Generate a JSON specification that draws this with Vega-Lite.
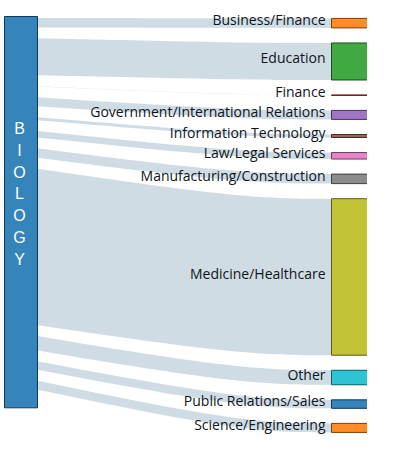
{
  "$schema": "https://vega.github.io/schema/vega-lite/v6.json",
  "width": 395,
  "height": 452,
  "autosize": {"type": "fit", "contains": "padding"},
  "padding": {"left": 0, "top": 0, "right": 28, "bottom": 0},
  "background": "white",
  "config": {"view": {"stroke": null}},
  "datasets": {
    "links": [
      {"source": "BIOLOGY", "target": "Business/Finance", "value": 9.5},
      {"source": "BIOLOGY", "target": "Education", "value": 37},
      {"source": "BIOLOGY", "target": "Finance", "value": 0.3},
      {"source": "BIOLOGY", "target": "Government/International Relations", "value": 9},
      {"source": "BIOLOGY", "target": "Information Technology", "value": 3},
      {"source": "BIOLOGY", "target": "Law/Legal Services", "value": 6.5},
      {"source": "BIOLOGY", "target": "Manufacturing/Construction", "value": 9.5},
      {"source": "BIOLOGY", "target": "Medicine/Healthcare", "value": 156.5},
      {"source": "BIOLOGY", "target": "Other", "value": 14.5},
      {"source": "BIOLOGY", "target": "Public Relations/Sales", "value": 8.5},
      {"source": "BIOLOGY", "target": "Science/Engineering", "value": 9}
    ],
    "nodes": [{"name": "BIOLOGY"}]
  },
  "layer": [
    {
      "data": {"name": "links"},
      "transform": [
        {"window": [{"op": "sum", "field": "value", "as": "cum"}, {"op": "row_number", "as": "idx"}], "sort": [{"field": "target"}], "frame": [null, 0]},
        {"calculate": "18 + datum.cum - datum.value + (datum.idx - 1) * 10.84", "as": "s0"},
        {"calculate": "18.4 + datum.cum - datum.value + (datum.idx - 1) * 15.07", "as": "t0"},
        {"calculate": "[{'x': 0, 'y0': datum.s0, 'y1': datum.s0 + datum.value}, {'x': 0.7, 'y0': datum.t0, 'y1': datum.t0 + datum.value}, {'x': 1, 'y0': datum.t0, 'y1': datum.t0 + datum.value}]", "as": "stops"},
        {"flatten": ["stops"]}
      ],
      "mark": {"type": "area", "interpolate": "basis", "color": "#d0dce4", "opacity": 1},
      "encoding": {
        "x": {"field": "stops.x", "type": "quantitative", "scale": {"domain": [-0.12755, 1.12075], "nice": false, "zero": false}, "axis": null},
        "y": {"field": "stops.y0", "type": "quantitative", "scale": {"domain": [0, 452], "reverse": true, "nice": false, "zero": false}, "axis": null},
        "y2": {"field": "stops.y1"},
        "detail": {"field": "target", "type": "nominal"}
      }
    },
    {
      "data": {"name": "nodes"},
      "mark": {"type": "rect", "fillOpacity": 0.9, "strokeWidth": 1},
      "encoding": {
        "x": {"datum": -0.11224, "type": "quantitative"},
        "x2": {"datum": 0},
        "y": {"datum": 16.5, "type": "quantitative"},
        "y2": {"datum": 407.8},
        "fill": {"field": "name", "type": "nominal", "legend": null,
          "scale": {"domain": ["BIOLOGY", "Business/Finance", "Education", "Finance", "Government/International Relations", "Information Technology", "Law/Legal Services", "Manufacturing/Construction", "Medicine/Healthcare", "Other", "Public Relations/Sales", "Science/Engineering"],
            "range": ["#1f77b4", "#ff7f0e", "#2ca02c", "#d62728", "#9467bd", "#8c564b", "#e377c2", "#7f7f7f", "#bcbd22", "#17becf", "#1f77b4", "#ff7f0e"]}},
        "stroke": {"field": "name", "type": "nominal", "legend": null,
          "scale": {"domain": ["BIOLOGY", "Business/Finance", "Education", "Finance", "Government/International Relations", "Information Technology", "Law/Legal Services", "Manufacturing/Construction", "Medicine/Healthcare", "Other", "Public Relations/Sales", "Science/Engineering"],
            "range": ["#0f3a58", "#7d3e07", "#164e16", "#691314", "#49325d", "#452a25", "#6f3a5f", "#3e3e3e", "#5c5d11", "#0b5d65", "#0f3a58", "#7d3e07"]}}
      }
    },
    {
      "data": {"name": "links"},
      "transform": [
        {"window": [{"op": "sum", "field": "value", "as": "cum"}, {"op": "row_number", "as": "idx"}], "sort": [{"field": "target"}], "frame": [null, 0]},
        {"calculate": "18.4 + datum.cum - datum.value + (datum.idx - 1) * 15.07", "as": "t0"},
        {"calculate": "datum.t0 + datum.value", "as": "t1"}
      ],
      "mark": {"type": "rect", "fillOpacity": 0.9, "strokeWidth": 1, "clip": true},
      "encoding": {
        "x": {"datum": 1, "type": "quantitative"},
        "x2": {"datum": 1.2},
        "y": {"field": "t0", "type": "quantitative"},
        "y2": {"field": "t1"},
        "fill": {"field": "target", "type": "nominal", "legend": null},
        "stroke": {"field": "target", "type": "nominal", "legend": null}
      }
    },
    {
      "data": {"name": "links"},
      "transform": [
        {"window": [{"op": "sum", "field": "value", "as": "cum"}, {"op": "row_number", "as": "idx"}], "sort": [{"field": "target"}], "frame": [null, 0]},
        {"calculate": "18.4 + datum.cum - datum.value / 2 + (datum.idx - 1) * 15.07", "as": "tm"}
      ],
      "mark": {"type": "text", "align": "right", "baseline": "middle", "dx": -6, "dy": -2, "font": "Open Sans", "fontSize": 14, "color": "#10141c"},
      "encoding": {
        "x": {"datum": 1, "type": "quantitative"},
        "y": {"field": "tm", "type": "quantitative"},
        "text": {"field": "target", "type": "nominal"}
      }
    },
    {
      "data": {"name": "nodes"},
      "mark": {"type": "text", "align": "center", "baseline": "middle", "font": "Liberation Sans", "fontSize": 16, "lineHeight": 21.8, "color": "white", "lineBreak": {"expr": "regexp('(?=.)')"}, "dx": -1.5},
      "encoding": {
        "x": {"datum": -0.05612, "type": "quantitative"},
        "y": {"datum": 129, "type": "quantitative"},
        "text": {"field": "name", "type": "nominal"}
      }
    }
  ]
}
